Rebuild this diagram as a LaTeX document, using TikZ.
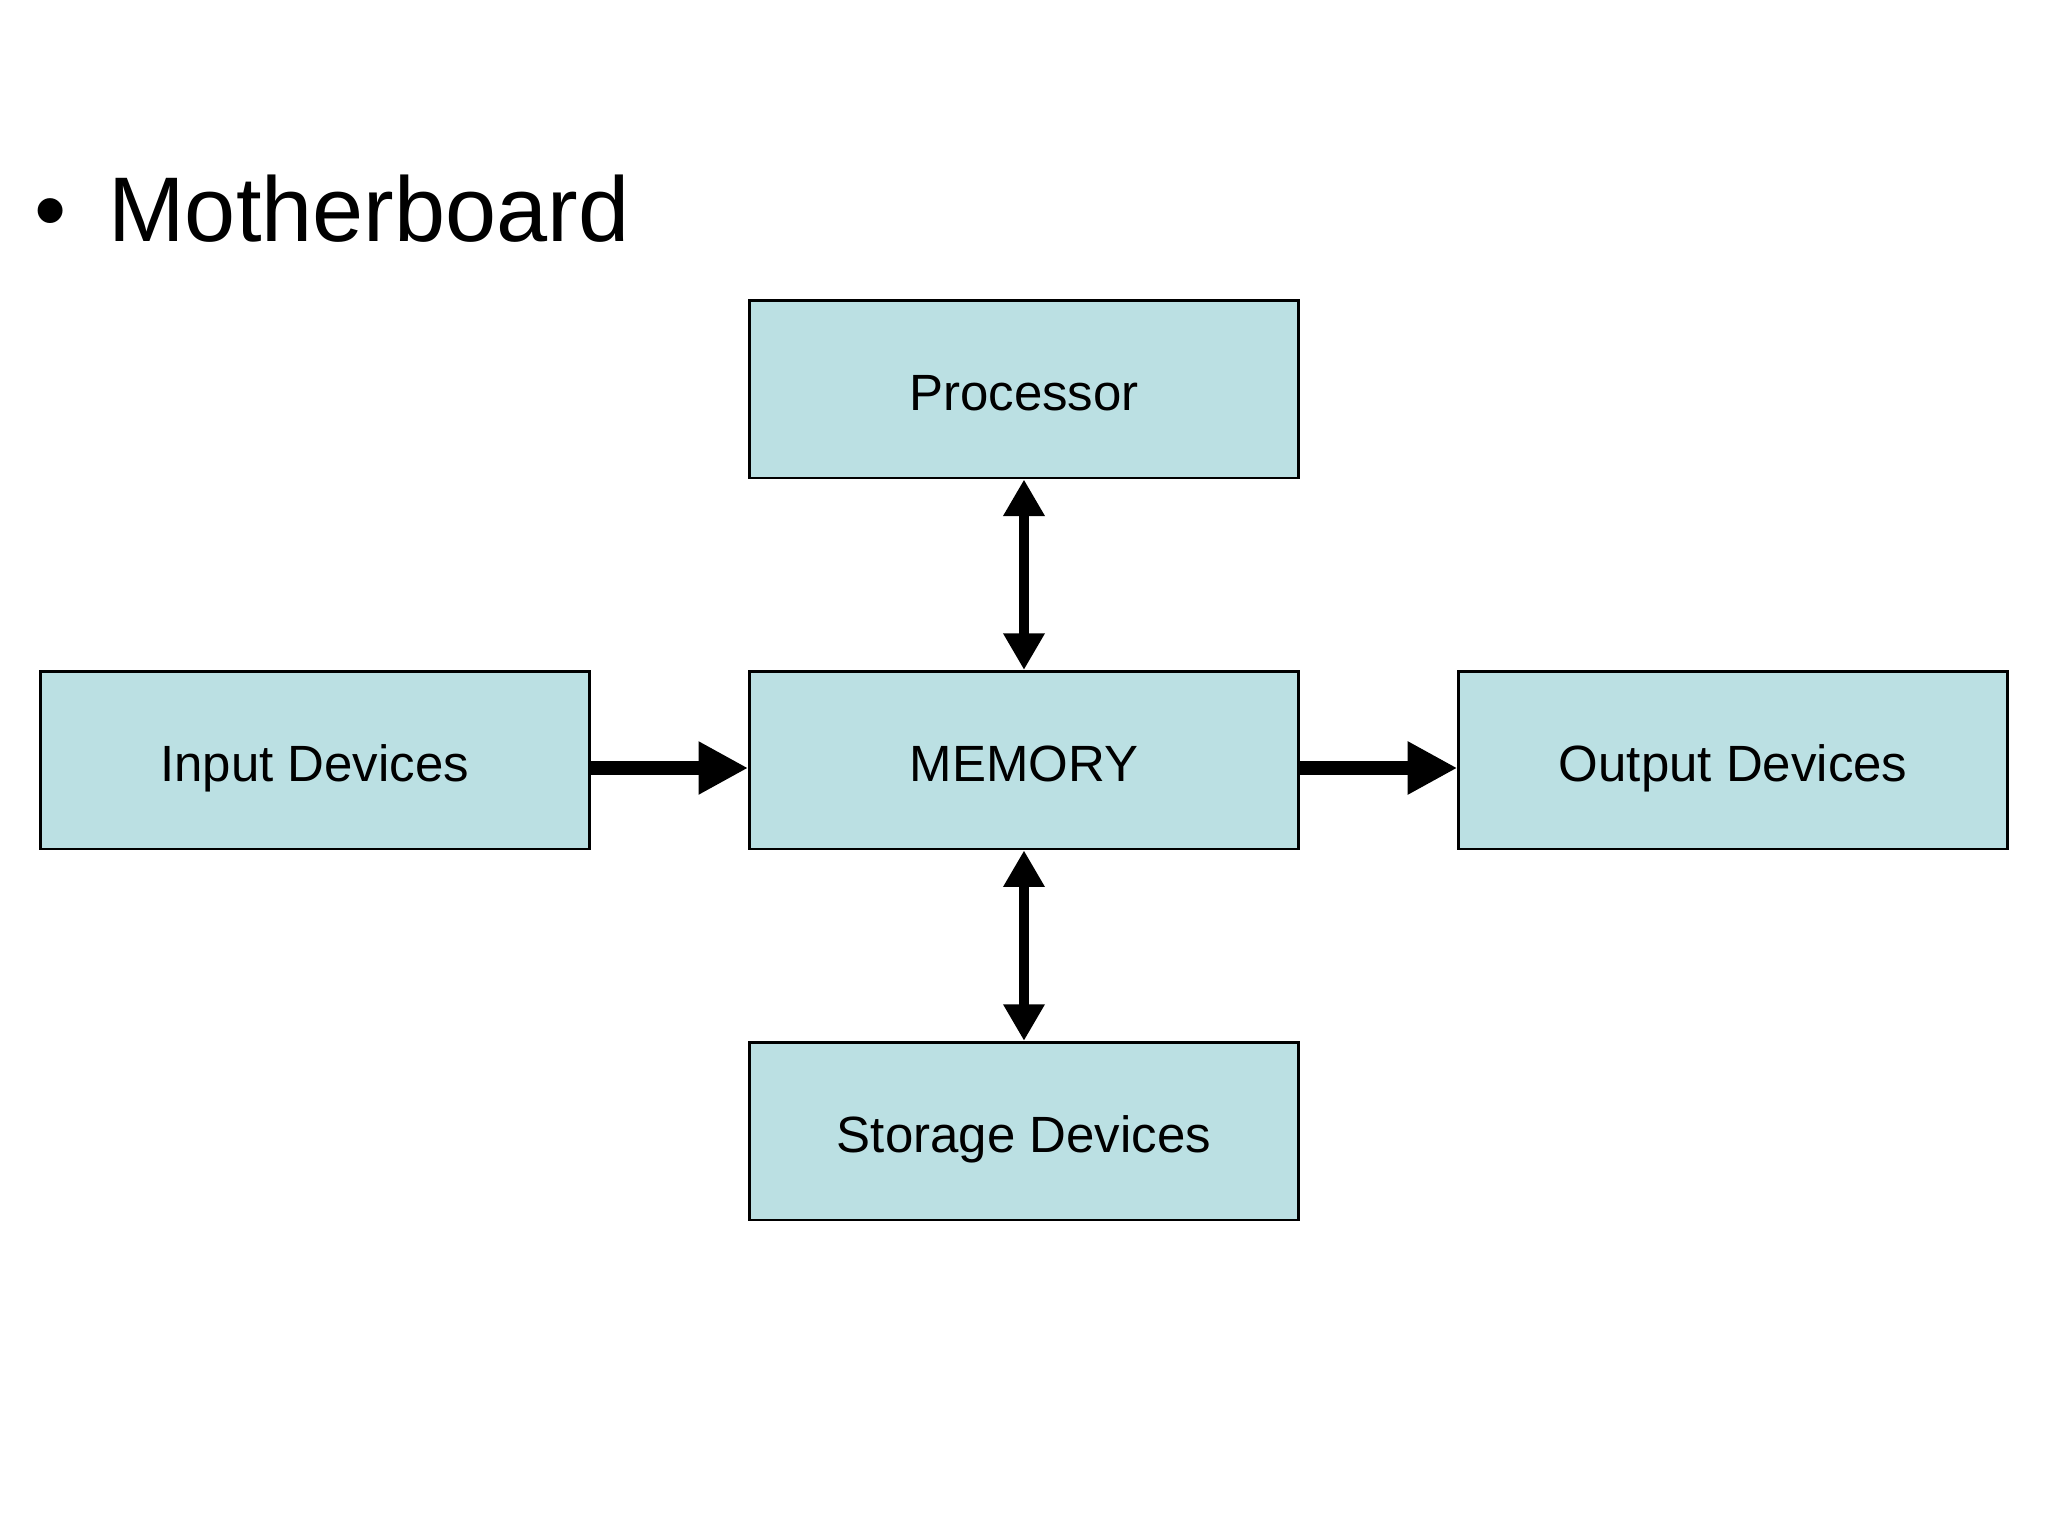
\documentclass[tikz,border=0pt]{standalone}
\usepackage{fontspec}
\setmainfont{Liberation Sans}
\usetikzlibrary{arrows.meta}
\definecolor{boxfill}{HTML}{BBE0E3}
\begin{document}
\begin{tikzpicture}[x=0.01cm,y=-0.01cm,
  box/.style={draw=black,line width=0.6pt,fill=boxfill,minimum width=4.2cm,minimum height=1.36cm,inner sep=0pt,text depth=0pt,font=\fontsize{11.1}{13}\selectfont},
  harr/.style={line width=0.1cm,-{Triangle[length=0.38cm,width=0.38cm]}},
  varr/.style={line width=0.08cm,{Triangle[length=0.28cm,width=0.3cm]}-{Triangle[length=0.28cm,width=0.3cm]}}]
\useasboundingbox (0,0) rectangle (1568,1176);
\node[anchor=west,font=\fontsize{20}{24}\selectfont] (title) at (14,160) {\textbullet\hspace{0.32cm}Motherboard};
\node[box] (proc) at (784,298) {\raisebox{-0.05cm}{Processor}};
\node[box] (mem) at (784,582) {\raisebox{-0.05cm}{MEMORY}};
\node[box] (in) at (241,582) {\raisebox{-0.05cm}{Input Devices}};
\node[box] (out) at (1327,582) {\raisebox{-0.05cm}{Output Devices}};
\node[box] (stor) at (784,866) {\raisebox{-0.05cm}{Storage Devices}};
\draw[harr] ([yshift=-0.06cm]in.east) -- ([yshift=-0.06cm]mem.west);
\draw[harr] ([yshift=-0.06cm]mem.east) -- ([yshift=-0.06cm]out.west);
\draw[varr] (proc.south) -- (mem.north);
\draw[varr] (mem.south) -- (stor.north);
\end{tikzpicture}
\end{document}
